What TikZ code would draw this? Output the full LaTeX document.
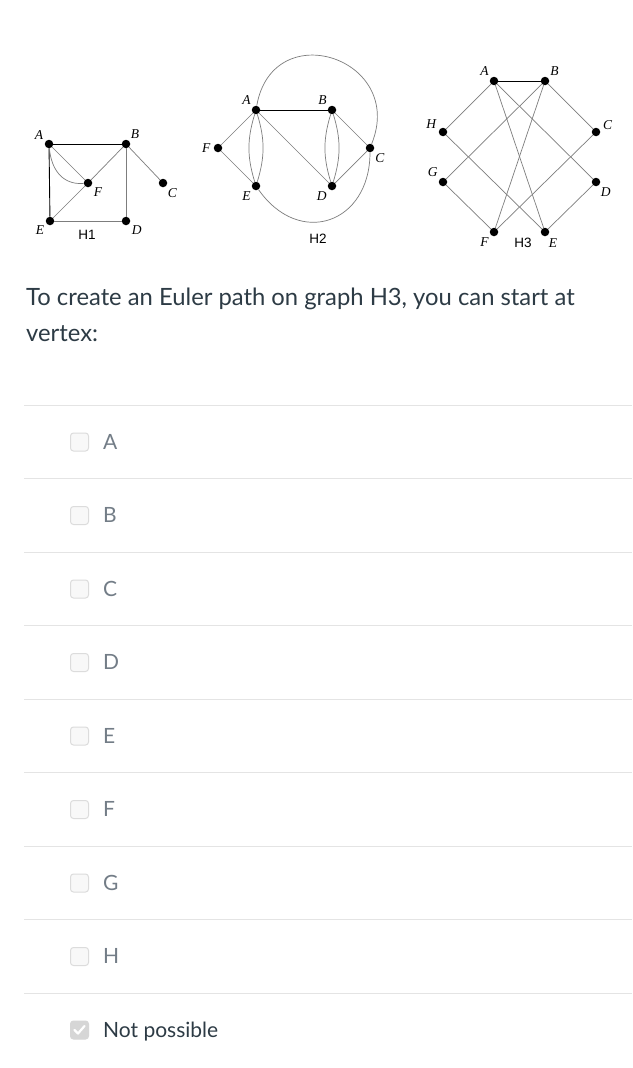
\documentclass[tikz,border=0pt]{standalone}
\usepackage{fontspec}
\setmainfont{Lato}
\newfontfamily\vxfont{Liberation Serif}
\newfontfamily\grfont{Liberation Sans}
\usepackage{xcolor}
\usetikzlibrary{
    positioning,
    calc
}
\definecolor{edgegray}{RGB}{125,125,125}
\definecolor{quiztext}{RGB}{45,59,69}
\definecolor{optgray}{RGB}{115,125,135}
\definecolor{rulegray}{RGB}{228,228,228}
\definecolor{boxline}{RGB}{220,220,220}
\definecolor{boxfill}{RGB}{248,248,248}
\definecolor{boxdone}{RGB}{214,214,214}
\tikzset{
    vertex/.style={circle,fill=black,inner sep=0pt,minimum size=8.5pt},
    vlabel/.style={font=\vxfont\itshape\fontsize{13.5}{13.5}\selectfont,
      inner sep=0pt,label distance=3pt},
    glabel/.style={font=\grfont\fontsize{13.5}{13.5}\selectfont,inner sep=0pt},
    gedge/.style={draw=edgegray,line width=0.7pt},
    bedge/.style={draw=black,line width=0.9pt}
  }
\tikzset{
    tickbox/.style={draw=boxline,fill=boxfill,rounded corners=3pt,
      minimum size=18pt,inner sep=0pt,line width=1pt},
    choice/.style={font=\fontsize{21}{21}\selectfont,text=optgray,
      anchor=base west,inner sep=0pt},
    rowrule/.style={draw=rulegray,line width=1pt}
  }

\begin{document}
\begin{tikzpicture}[x=1pt,y=1pt]

\useasboundingbox[fill=white] (0,0) rectangle (632,-1068);

% graph H1
\node[vertex,label={[vlabel]140:A}] at (49,-144) (h1a) {};
\node[vertex,label={[vlabel]50:B}] at (126,-144) (h1b) {};
\node[vertex,label={[vlabel]-50:C}] at (163,-183) (h1c) {};
\node[vertex,label={[vlabel]-40:D}] at (126,-221) (h1d) {};
\node[vertex,label={[vlabel]-140:E}] at (50,-221) (h1e) {};
\node[vertex,label={[vlabel]-40:F}] at (88,-183) (h1f) {};
\node[glabel] at (87,-235) (h1name) {H1};

\path (h1a) edge[bedge] (h1b)
            edge[bedge] (h1e)
            edge[gedge] (h1f)
            edge[gedge,out=-85,in=185,looseness=1.1] (h1f);
\path (h1b) edge[gedge] (h1f)
            edge[gedge] (h1d)
            edge[gedge] (h1c);
\path (h1e) edge[gedge] (h1f)
            edge[gedge] (h1d);

% graph H2
\node[vertex,label={[vlabel]135:A}] at (256,-110) (h2a) {};
\node[vertex,label={[vlabel]135:B}] at (332,-110) (h2b) {};
\node[vertex,label={[vlabel]-45:C}] at (370,-148) (h2c) {};
\node[vertex,label={[vlabel]-135:D}] at (332,-186) (h2d) {};
\node[vertex,label={[vlabel]-135:E}] at (256,-186) (h2e) {};
\node[vertex,label={[vlabel]180:F}] at (218,-148) (h2f) {};
\node[glabel] at (318,-239) (h2name) {H2};

\path (h2a) edge[bedge] (h2b)
            edge[gedge] (h2f)
            edge[gedge] (h2d)
            edge[gedge,bend left=17] (h2e)
            edge[gedge,bend right=17] (h2e)
            edge[gedge,out=80,in=68,looseness=1.95] (h2c);
\path (h2b) edge[gedge,bend left=17] (h2d)
            edge[gedge,bend right=17] (h2d)
            edge[gedge] (h2c);
\path (h2e) edge[gedge] (h2f)
            edge[gedge,out=-55,in=-90,looseness=1.55] (h2c);
\path (h2d) edge[gedge] (h2c);

% graph H3
\node[vertex,label={[vlabel]135:A}] at (494,-81) (h3a) {};
\node[vertex,label={[vlabel]45:B}] at (545,-81) (h3b) {};
\node[vertex,label={[vlabel]20:C}] at (596,-132) (h3c) {};
\node[vertex,label={[vlabel]-50:D}] at (596,-182) (h3d) {};
\node[vertex,label={[vlabel]-60:E}] at (545,-232) (h3e) {};
\node[vertex,label={[vlabel]-135:F}] at (494,-232) (h3f) {};
\node[vertex,label={[vlabel]135:G}] at (443,-182) (h3g) {};
\node[vertex,label={[vlabel]155:H}] at (443,-132) (h3h) {};
\node[glabel] at (523,-243) (h3name) {H3};

\path (h3a) edge[bedge] (h3b)
            edge[gedge] (h3h)
            edge[gedge] (h3e)
            edge[gedge] (h3d);
\path (h3b) edge[gedge] (h3g)
            edge[gedge] (h3f)
            edge[gedge] (h3c);
\path (h3h) edge[gedge] (h3e);
\path (h3g) edge[gedge] (h3f);
\path (h3f) edge[gedge] (h3c);
\path (h3e) edge[gedge] (h3d);

% question
\node[anchor=base west,inner sep=0pt,text=quiztext,
      font=\fontsize{23.8}{23.8}\selectfont] at (26,-305) (qline1)
  {To create an Euler path on graph H3, you can start at};
\node[anchor=base west,inner sep=0pt,text=quiztext,
      font=\fontsize{23.8}{23.8}\selectfont] at (26,-341) (qline2)
  {vertex:};

% answer rows
\foreach \i in {0,...,8}
  \draw[rowrule] (24,-405-73.5*\i) -- (632,-405-73.5*\i);

\foreach \lt [count=\i from 0] in {A,B,C,D,E,F,G,H} {
  \node[tickbox] at (79.5,-442-73.5*\i) (box\lt) {};
  \node[choice] at (103,-449-73.5*\i) (opt\lt) {\lt};
}

\node[tickbox,draw=boxdone,fill=boxdone] at (79.5,-1030) (boxnone) {};
\draw[white,line width=2.2pt,line cap=round,line join=round]
  ($(boxnone)+(-5,0)$) -- ($(boxnone)+(-1.5,-3.5)$) -- ($(boxnone)+(5,4)$);
\node[choice,text=quiztext] at (103,-1037) (optnone) {Not possible};

\end{tikzpicture}
\end{document}
